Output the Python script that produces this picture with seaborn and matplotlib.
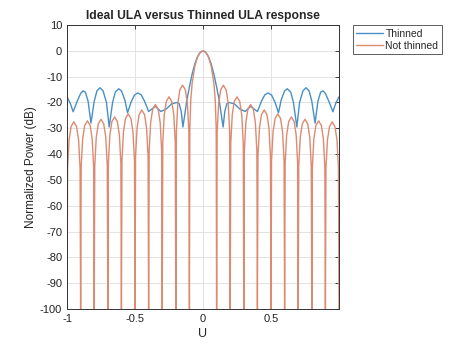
import matplotlib
matplotlib.use("Agg")
import matplotlib.pyplot as plt
import seaborn as sns
import pandas as pd

# ---- data (U, normalized power in dB) ----
thinned_u = [
    -1.0, -0.975, -0.955, -0.925, -0.90, -0.882, -0.865, -0.845, -0.824, -0.80,
    -0.78, -0.757, -0.735, -0.71, -0.69, -0.665, -0.645, -0.62, -0.60, -0.575,
    -0.555, -0.53, -0.505, -0.48, -0.455, -0.43, -0.40, -0.35, -0.31, -0.27,
    -0.23, -0.19, -0.175, -0.16, -0.148, -0.135, -0.12, -0.10, -0.08, -0.06,
    -0.04, -0.02, 0.0,
    0.02, 0.04, 0.06, 0.08, 0.10, 0.12, 0.135, 0.148, 0.16, 0.175,
    0.19, 0.23, 0.27, 0.31, 0.35, 0.40, 0.43, 0.455, 0.48, 0.505,
    0.53, 0.555, 0.575, 0.60, 0.62, 0.645, 0.665, 0.69, 0.71, 0.735,
    0.757, 0.78, 0.80, 0.824, 0.845, 0.865, 0.882, 0.90, 0.925, 0.955,
    0.975, 1.0,
]
thinned_db = [
    -17.8, -20.5, -23.6, -19.5, -16.5, -15.5, -16.0, -19.5, -28.0, -19.5,
    -15.5, -14.3, -15.5, -20.0, -29.5, -20.0, -16.0, -14.7, -15.5, -19.0,
    -24.0, -20.0, -17.2, -16.3, -17.0, -19.5, -23.5, -21.5, -23.5, -22.5,
    -20.5, -20.0, -20.5, -23.5, -29.5, -25.0, -19.5, -14.0, -9.0, -5.0,
    -2.2, -0.5, 0.0,
    -0.5, -2.2, -5.0, -9.0, -14.0, -19.5, -25.0, -29.5, -23.5, -20.5,
    -20.0, -20.5, -22.5, -23.5, -21.5, -23.5, -19.5, -17.0, -16.3, -17.2,
    -20.0, -24.0, -19.0, -15.5, -14.7, -16.0, -20.0, -29.5, -20.0, -15.5,
    -14.3, -15.5, -19.5, -28.0, -19.5, -16.0, -15.5, -16.5, -19.5, -23.6,
    -20.5, -17.8,
]

full_u = [
    -1.0, -0.996, -0.985, -0.97, -0.95, -0.93, -0.915, -0.904,
    -0.9, -0.896, -0.885, -0.87, -0.85, -0.83, -0.815, -0.804,
    -0.8, -0.796, -0.785, -0.77, -0.75, -0.73, -0.715, -0.704,
    -0.7, -0.696, -0.685, -0.67, -0.65, -0.63, -0.615, -0.604,
    -0.6, -0.596, -0.585, -0.57, -0.55, -0.53, -0.515, -0.504,
    -0.5, -0.496, -0.485, -0.47, -0.45, -0.43, -0.415, -0.404,
    -0.4, -0.396, -0.385, -0.37, -0.35, -0.33, -0.315, -0.304,
    -0.3, -0.296, -0.285, -0.27, -0.25, -0.23, -0.215, -0.204,
    -0.2, -0.196, -0.185, -0.17, -0.15, -0.13, -0.115, -0.104,
    -0.1, -0.097, -0.09, -0.08, -0.06, -0.04, -0.02, 0.0,
    0.02, 0.04, 0.06, 0.08, 0.09, 0.097, 0.1,
    0.104, 0.115, 0.13, 0.15, 0.17, 0.185, 0.196, 0.2,
    0.204, 0.215, 0.23, 0.25, 0.27, 0.285, 0.296, 0.3,
    0.304, 0.315, 0.33, 0.35, 0.37, 0.385, 0.396, 0.4,
    0.404, 0.415, 0.43, 0.45, 0.47, 0.485, 0.496, 0.5,
    0.504, 0.515, 0.53, 0.55, 0.57, 0.585, 0.596, 0.6,
    0.604, 0.615, 0.63, 0.65, 0.67, 0.685, 0.696, 0.7,
    0.704, 0.715, 0.73, 0.75, 0.77, 0.785, 0.796, 0.8,
    0.804, 0.815, 0.83, 0.85, 0.87, 0.885, 0.896, 0.9,
    0.904, 0.915, 0.93, 0.95, 0.97, 0.985, 0.996, 1.0,
]
full_db = [
    -100, -45.5, -34.5, -29.3, -27.5, -29.3, -34.5, -45.5,
    -100, -45.1, -34.1, -28.9, -27.1, -28.9, -34.1, -45.1,
    -100, -44.5, -33.5, -28.3, -26.5, -28.3, -33.5, -44.5,
    -100, -43.6, -32.6, -27.4, -25.6, -27.4, -32.6, -43.6,
    -100, -42.4, -31.4, -26.2, -24.4, -26.2, -31.4, -42.4,
    -100, -40.9, -29.9, -24.7, -22.9, -24.7, -29.9, -40.9,
    -100, -38.8, -27.8, -22.6, -20.8, -22.6, -27.8, -38.8,
    -100, -35.8, -24.8, -19.6, -17.8, -19.6, -24.8, -35.8,
    -100, -31.3, -20.3, -15.1, -13.3, -15.1, -20.3, -31.3,
    -100, -30.0, -19.0, -12.6, -5.9, -2.4, -0.6, 0.0,
    -0.6, -2.4, -5.9, -12.6, -19.0, -30.0, -100,
    -31.3, -20.3, -15.1, -13.3, -15.1, -20.3, -31.3, -100,
    -35.8, -24.8, -19.6, -17.8, -19.6, -24.8, -35.8, -100,
    -38.8, -27.8, -22.6, -20.8, -22.6, -27.8, -38.8, -100,
    -40.9, -29.9, -24.7, -22.9, -24.7, -29.9, -40.9, -100,
    -42.4, -31.4, -26.2, -24.4, -26.2, -31.4, -42.4, -100,
    -43.6, -32.6, -27.4, -25.6, -27.4, -32.6, -43.6, -100,
    -44.5, -33.5, -28.3, -26.5, -28.3, -33.5, -44.5, -100,
    -45.1, -34.1, -28.9, -27.1, -28.9, -34.1, -45.1, -100,
    -45.5, -34.5, -29.3, -27.5, -29.3, -34.5, -45.5, -100,
]

series_names = ["Thinned", "Not thinned"]
x_ticks = [-1, -0.5, 0, 0.5]
y_ticks = [10, 0, -10, -20, -30, -40, -50, -60, -70, -80, -90, -100]

df = pd.concat([
    pd.DataFrame({"U": thinned_u, "dB": thinned_db, "series": series_names[0]}),
    pd.DataFrame({"U": full_u, "dB": full_db, "series": series_names[1]}),
], ignore_index=True)

sns.set_theme(style="white")
plt.rcParams["font.family"] = ["Liberation Sans", "DejaVu Sans"]

fig = plt.figure(figsize=(4.74, 3.45), dpi=100)
ax = fig.add_axes([0.1414, 0.1043, 0.5738, 0.8232])

palette = {"Thinned": "#4690c6", "Not thinned": "#de8a70"}
sns.lineplot(data=df, x="U", y="dB", hue="series", palette=palette,
             hue_order=series_names, estimator=None, sort=False,
             linewidth=1.0, ax=ax, legend=True)

ax.set_xlim(-1, 1)
ax.set_ylim(-100, 10)
ax.set_xticks(x_ticks)
ax.set_xticklabels(["-1", "-0.5", "0", "0.5"])
ax.set_yticks(y_ticks)
ax.set_yticklabels([str(v) for v in y_ticks])
ax.grid(True, color="#e3e3e3", linewidth=0.7)
ax.set_axisbelow(True)
ax.tick_params(direction="in", length=3, labelsize=8, colors="#222222",
               top=True, right=True, width=0.6)
for s in ax.spines.values():
    s.set_color("#333333")
    s.set_linewidth(0.7)

ax.set_title("Ideal ULA versus Thinned ULA response", fontsize=8.7,
             fontweight="bold", pad=4)
ax.set_xlabel("U", fontsize=9, labelpad=3)
ax.set_ylabel("Normalized Power (dB)", fontsize=8.5, labelpad=2)

handles, labels = ax.get_legend_handles_labels()
leg = ax.legend(handles, labels, loc="upper left", bbox_to_anchor=(1.05, 1.0),
                borderaxespad=0, fontsize=7.5, frameon=True, fancybox=False,
                handlelength=2.6, handletextpad=0.2, borderpad=0.35,
                labelspacing=0.2)
leg.get_frame().set_edgecolor("#333333")
leg.get_frame().set_linewidth(0.7)

fig.savefig("out.png", dpi=100)
